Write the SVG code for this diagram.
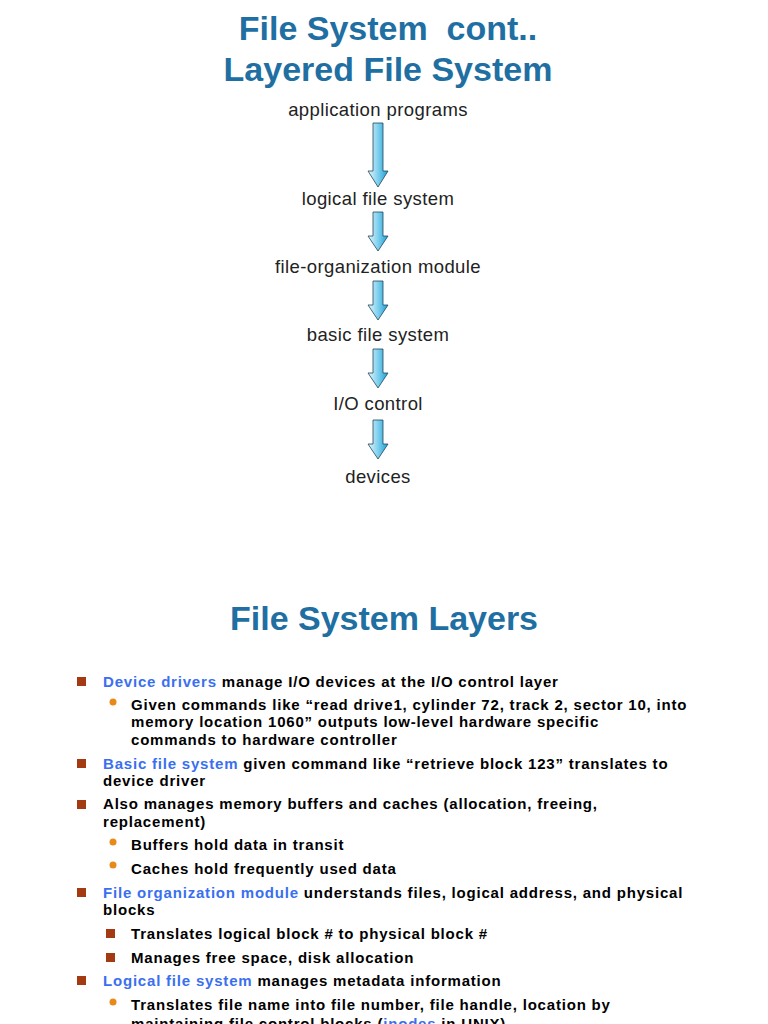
<svg xmlns="http://www.w3.org/2000/svg" width="768" height="1024" viewBox="0 0 768 1024">
<defs>
<linearGradient id="g" x1="0" x2="1" y1="0" y2="0"><stop offset="0" stop-color="#e6f6fc"/><stop offset="0.5" stop-color="#7fd0ee"/><stop offset="1" stop-color="#1aa0d8"/></linearGradient>
</defs>
<style>
.t{font-family:"Liberation Sans",Arial,sans-serif;font-weight:bold;fill:#1f6fa3;text-anchor:middle}
.l{font-family:"Liberation Sans",Arial,sans-serif;font-size:18.5px;letter-spacing:0.4px;fill:#222;text-anchor:middle}
.b{font-family:"Liberation Sans",Arial,sans-serif;font-size:15px;letter-spacing:0.8px;font-weight:bold;fill:#000}
.k{fill:#3a6ff0}
.sq{fill:#a33a12}
.dot{fill:#e88a1a}
.a{fill:url(#g);stroke:#245;stroke-width:0.8}
</style>
<rect width="768" height="1024" fill="#fff"/>
<text class="t" x="388" y="40" font-size="34" xml:space="preserve">File System  cont..</text>
<text class="t" x="388" y="81" font-size="34">Layered File System</text>
<g id="n1"><text class="l" x="378" y="116">application programs</text></g>
<g id="n2"><text class="l" x="378" y="205">logical file system</text></g>
<g id="n3"><text class="l" x="378" y="273">file-organization module</text></g>
<g id="n4"><text class="l" x="378" y="341">basic file system</text></g>
<g id="n5"><text class="l" x="378" y="410">I/O control</text></g>
<g id="n6"><text class="l" x="378" y="483">devices</text></g>
<g id="connectors">
<path class="a" d="M373,123 H383 V171 H388 L378,187 L368,171 H373 Z"/>
<path class="a" d="M373,212 H383 V236 H388 L378,251 L368,236 H373 Z"/>
<path class="a" d="M373,281 H383 V305 H388 L378,320 L368,305 H373 Z"/>
<path class="a" d="M373,349 H383 V373 H388 L378,388 L368,373 H373 Z"/>
<path class="a" d="M373,420 H383 V444 H388 L378,459 L368,444 H373 Z"/>
</g>
<text class="t" x="384" y="630" font-size="34">File System Layers</text>
<g class="sq">
<rect x="77" y="677" width="9" height="9"/><rect x="77" y="759" width="9" height="9"/><rect x="77" y="800" width="9" height="9"/><rect x="77" y="888" width="9" height="9"/><rect x="106" y="929" width="9" height="9"/><rect x="106" y="953" width="9" height="9"/><rect x="77" y="976" width="9" height="9"/>
</g>
<g class="dot">
<circle cx="113" cy="702" r="3.5"/><circle cx="113" cy="842" r="3.5"/><circle cx="113" cy="865" r="3.5"/><circle cx="113" cy="1002" r="3.5"/>
</g>
<text class="b" x="103" y="687"><tspan class="k">Device drivers</tspan> manage I/O devices at the I/O control layer</text>
<text class="b" x="131" y="710">Given commands like “read drive1, cylinder 72, track 2, sector 10, into</text>
<text class="b" x="131" y="727">memory location 1060” outputs low-level hardware specific</text>
<text class="b" x="131" y="745">commands to hardware controller</text>
<text class="b" x="103" y="769"><tspan class="k">Basic file system</tspan> given command like “retrieve block 123” translates to</text>
<text class="b" x="103" y="786">device driver</text>
<text class="b" x="103" y="809">Also manages memory buffers and caches (allocation, freeing,</text>
<text class="b" x="103" y="827">replacement)</text>
<text class="b" x="131" y="850">Buffers hold data in transit</text>
<text class="b" x="131" y="874">Caches hold frequently used data</text>
<text class="b" x="103" y="898"><tspan class="k">File organization module</tspan> understands files, logical address, and physical</text>
<text class="b" x="103" y="915">blocks</text>
<text class="b" x="131" y="939">Translates logical block # to physical block #</text>
<text class="b" x="131" y="963">Manages free space, disk allocation</text>
<text class="b" x="103" y="986"><tspan class="k">Logical file system</tspan> manages metadata information</text>
<text class="b" x="131" y="1010">Translates file name into file number, file handle, location by</text>
<text class="b" x="131" y="1029">maintaining file control blocks (<tspan class="k">inodes</tspan> in UNIX)</text>
</svg>
